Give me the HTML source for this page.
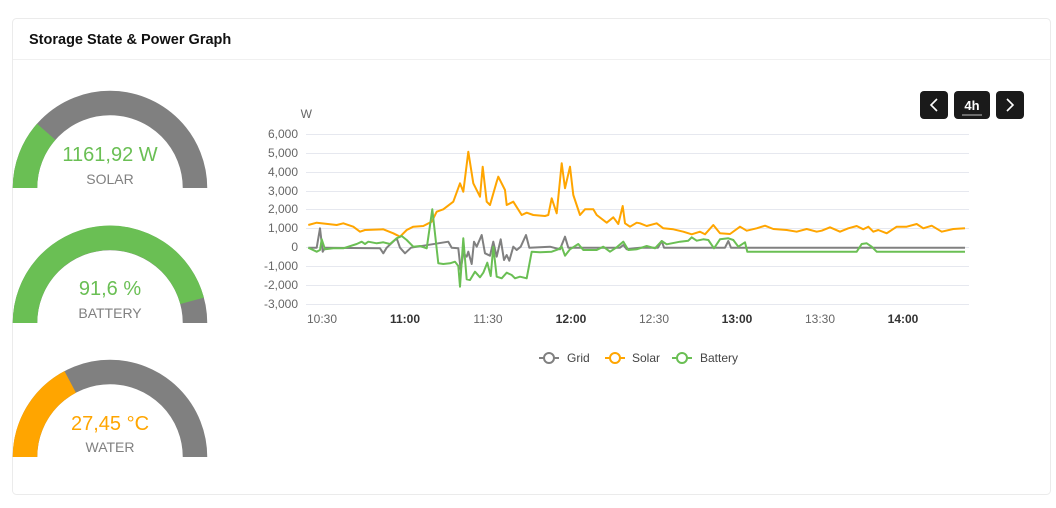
<!DOCTYPE html>
<html><head><meta charset="utf-8"><style>
body{margin:0;background:#fff;width:1056px;height:503px;overflow:hidden;font-family:"Liberation Sans",Arial,sans-serif}
</style></head><body>
<svg width="1056" height="503" xmlns="http://www.w3.org/2000/svg" font-family="Liberation Sans, Arial, sans-serif">
<rect x="12.5" y="18.5" width="1038" height="476" rx="4" fill="#fff" stroke="#ebebeb"/>
<line x1="13" y1="59.5" x2="1050" y2="59.5" stroke="#f0f0f0"/>
<text x="29" y="44" font-size="14.5" font-weight="bold" fill="#111">Storage State &amp; Power Graph</text>
<g fill="none" stroke-width="24.5">
<path d="M25 188 A85 85 0 0 1 195 188" stroke="#808080"/>
<path d="M25 188 A85 85 0 0 1 46.2 131.8" stroke="#6abf54"/>
<path d="M25 323 A85 85 0 0 1 195 323" stroke="#808080"/>
<path d="M25 323 A85 85 0 0 1 192.1 300.8" stroke="#6abf54"/>
<path d="M25 457 A85 85 0 0 1 195 457" stroke="#808080"/>
<path d="M25 457 A85 85 0 0 1 70.2 381.9" stroke="#ffa500"/>
</g>
<g text-anchor="middle">
<text x="110" y="161" font-size="20" fill="#6abf54">1161,92 W</text>
<text x="110" y="184" font-size="14" fill="#808080">SOLAR</text>
<text x="110" y="295" font-size="20" fill="#6abf54">91,6 %</text>
<text x="110" y="318" font-size="14" fill="#808080">BATTERY</text>
<text x="110" y="430" font-size="20" fill="#ffa500">27,45 °C</text>
<text x="110" y="452" font-size="14" fill="#808080">WATER</text>
</g>
<rect x="920" y="91" width="28" height="28" rx="4" fill="#1a1a1a"/>
<rect x="954" y="91" width="36" height="28" rx="4" fill="#1a1a1a"/>
<rect x="996" y="91" width="28" height="28" rx="4" fill="#1a1a1a"/>
<path d="M937 99 L931 105 L937 111" stroke="#fff" stroke-width="1.6" fill="none"/>
<path d="M1007 99 L1013 105 L1007 111" stroke="#fff" stroke-width="1.6" fill="none"/>
<text x="972" y="110" font-size="13" font-weight="bold" fill="#fff" text-anchor="middle">4h</text>
<line x1="962" y1="115" x2="982" y2="115" stroke="#888" stroke-width="1.5"/>
<g stroke="#e6e8ef" stroke-width="1">
<line x1="306" y1="134.5" x2="969" y2="134.5"/><line x1="306" y1="153.5" x2="969" y2="153.5"/>
<line x1="306" y1="172.5" x2="969" y2="172.5"/><line x1="306" y1="191.5" x2="969" y2="191.5"/>
<line x1="306" y1="209.5" x2="969" y2="209.5"/><line x1="306" y1="228.5" x2="969" y2="228.5"/>
<line x1="306" y1="247.5" x2="969" y2="247.5"/><line x1="306" y1="266.5" x2="969" y2="266.5"/>
<line x1="306" y1="285.5" x2="969" y2="285.5"/><line x1="306" y1="304.5" x2="969" y2="304.5"/>
</g>
<g font-size="12" fill="#666" text-anchor="end">
<text x="312" y="118">W</text>
<text x="298" y="138">6,000</text><text x="298" y="157">5,000</text><text x="298" y="176">4,000</text>
<text x="298" y="195">3,000</text><text x="298" y="213">2,000</text><text x="298" y="232">1,000</text>
<text x="298" y="251">0</text><text x="298" y="270">-1,000</text><text x="298" y="289">-2,000</text><text x="298" y="308">-3,000</text>
</g>
<g font-size="12" fill="#666" text-anchor="middle">
<text x="322" y="323">10:30</text><text x="405" y="323" font-weight="bold" fill="#333">11:00</text>
<text x="488" y="323">11:30</text><text x="571" y="323" font-weight="bold" fill="#333">12:00</text>
<text x="654" y="323">12:30</text><text x="737" y="323" font-weight="bold" fill="#333">13:00</text>
<text x="820" y="323">13:30</text><text x="903" y="323" font-weight="bold" fill="#333">14:00</text>
</g>
<g fill="none" stroke-width="2" stroke-linejoin="round">
<polyline stroke="#808080" points="308.3,247.7 316.7,247.7 320,228.3 322.7,251.7 325,247.7 380,248.3 383.3,253.3 386.7,247.7 396.7,238.3 400,247.7 405,253.3 411,247.7 448.3,241.7 451.7,247.7 458.3,248.3 460.7,270 463.3,253.3 466.7,256.7 468.3,251.7 471.7,264 474,241.7 476.7,246.7 481.7,235 485,253.3 490,255.7 493.3,241.7 496.7,256.7 500.7,239.3 504,260 506.7,255 509.3,260.7 513.3,246.7 516.7,250 520.7,246.7 526,235 529.3,247.7 550,246.7 560,249.3 565,236.7 568.3,247.7 620,247.7 623.3,245 626.7,249.3 640,247.7 658,247.7 661.7,241 664,247.7 725,247.7 728.3,241 731,247.7 965,247.7"/>
<polyline stroke="#ffa500" points="308.3,225 316.7,222.7 336.7,225 343.3,223.3 353.3,226.7 360,231.7 365,230 383.3,229.3 393.3,233.3 400,236.7 406.7,230 413.3,226.7 423.3,226 431.7,221.7 436.7,211.7 443.3,209.3 453.3,201.7 460,183.3 463.3,191.7 468.3,151.7 473.3,183.3 480,196.7 482.7,166.7 486.7,201.7 490,205 496.7,181.7 498.3,176.7 505,190 506.7,205 513.3,201.7 521.7,215 526.7,212.7 533.3,215 545,216 548.3,215 551.7,198.3 556.7,213.3 561.7,163.3 565,188.3 570,166.7 573.3,195 580,215 585,209.3 593.3,209.3 596.7,215 606.7,222.7 613.3,217.3 618.3,224 622.7,206 625,223.3 630,226.7 636.7,222.7 640,223.3 646.7,226 656.7,223.3 663.3,228.3 673.3,229.3 683.3,231.7 691.7,234.3 700,231.7 705,234.3 713.3,225 720,233.3 730,234 740,226.7 746.7,230.7 756.7,228.3 765,225.7 773.3,229 786.7,230 796.7,231.7 806.7,229 816.7,231.7 821.7,230.7 830,227.3 840,231.7 848.3,228.3 856.7,226 863.3,229.3 868.3,226.7 873.3,231.7 878.3,230 886.7,233.3 896.7,226.7 906.7,226.7 916.7,224 923.3,228.3 931.7,225.7 941.7,231.7 953.3,229 965,228.3"/>
<polyline stroke="#6abf54" points="308.3,247.7 316.7,251.7 320,250 321.7,239.3 325,249.3 333.3,248.3 343.3,248.3 356.7,244 361.7,241.7 365,244 368.3,241.7 376.7,243.3 383.3,242.3 390,244 396.7,238.3 401.7,236 406.7,240 413.3,246.7 420,246 426.7,248.3 432.3,209.3 438.3,263.3 443.3,264 450,263.3 455,261.7 458.3,266 460,286.7 463.3,238.3 466.7,279.3 470,280 475,271.7 480,277.3 483.3,272.7 487.3,262.7 490.7,276 493.3,246.7 496.7,276.7 501.7,278.3 506.7,272.7 511.7,275 515,278.3 520,276.7 526.7,278.3 531.7,251.7 540,252.3 551.7,251.7 558.3,249.3 561.7,246.7 565,255.7 570,249.3 578.3,244 583.3,250 596.7,250 603.3,246.7 610,251.7 616.7,247.3 623.3,241.7 628.3,250 636.7,249.3 646.7,246 655,248.3 661.7,241 666.7,244.3 680,241.7 688.3,240.7 691.7,237.3 696.7,240.7 703.3,239.3 708.3,240 714,248.3 720,239.3 728.3,238.3 733.3,240 738.3,246.7 745,242.3 747.3,251.7 856.7,251.7 861.7,244 866.7,243.3 871.7,246.7 876.7,251.7 965,251.7"/>
</g>
<g font-size="12" fill="#444" stroke-width="2">
<line x1="539" y1="358" x2="559" y2="358" stroke="#808080"/><circle cx="549" cy="358" r="5" fill="#fff" stroke="#808080"/>
<text x="567" y="362">Grid</text>
<line x1="605" y1="358" x2="625" y2="358" stroke="#ffa500"/><circle cx="615" cy="358" r="5" fill="#fff" stroke="#ffa500"/>
<text x="632" y="362">Solar</text>
<line x1="672" y1="358" x2="692" y2="358" stroke="#6abf54"/><circle cx="682" cy="358" r="5" fill="#fff" stroke="#6abf54"/>
<text x="700" y="362">Battery</text>
</g>
</svg>
</body></html>
